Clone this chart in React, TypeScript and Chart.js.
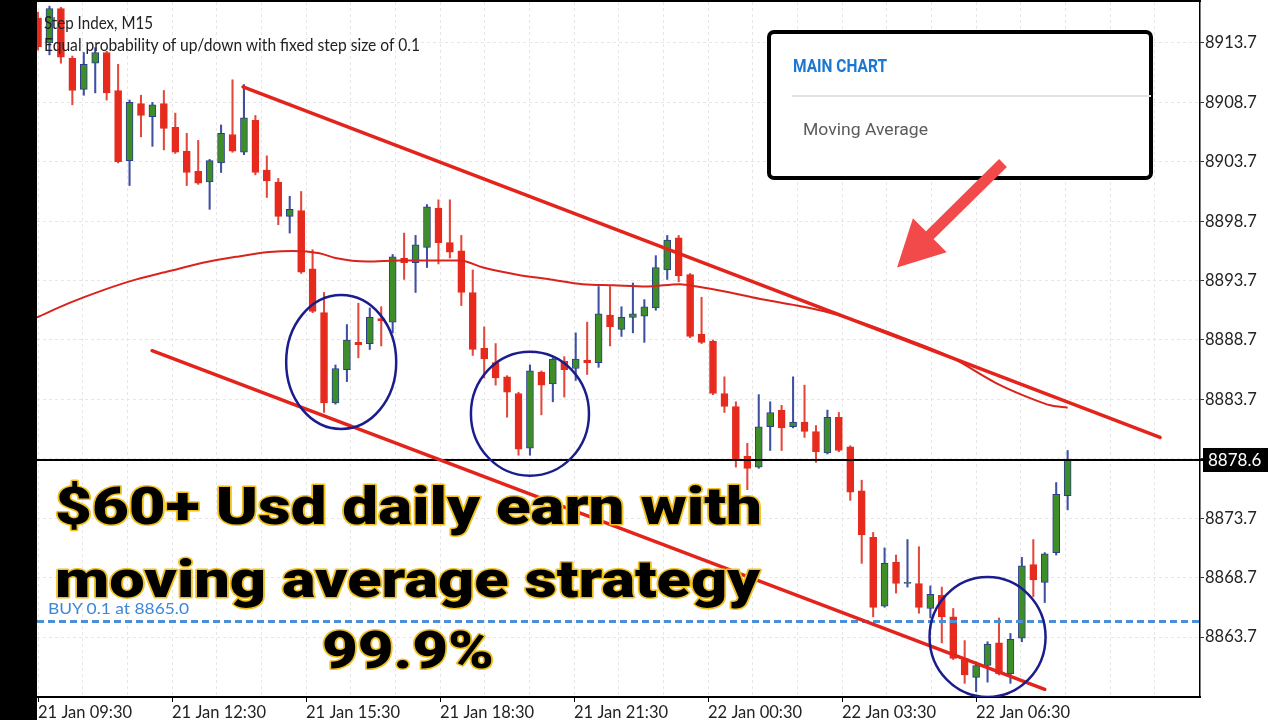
import React, { useEffect, useRef } from 'react';
import { Chart, registerables } from 'chart.js';

Chart.register(...registerables);

// Step Index, M15 candles (open / high / low / close)
const OPEN = [
  8915.8, 8913.7, 8916.6, 8912.4, 8909.8, 8912.0, 8912.9, 8909.7, 8903.8, 8908.6,
  8907.5, 8908.6, 8906.6, 8904.6, 8902.9, 8902.0, 8903.6, 8906.0, 8904.5, 8907.2,
  8903.0, 8902.0, 8899.1, 8899.6, 8894.7, 8891.0, 8883.4, 8886.2, 8888.5, 8888.4,
  8890.5, 8890.2, 8895.6, 8895.2, 8896.5, 8899.8, 8896.9, 8896.2, 8892.7, 8888.0,
  8886.8, 8885.6, 8884.2, 8879.6, 8886.0, 8885.0, 8886.9, 8886.3, 8887.0, 8886.8,
  8890.8, 8889.6, 8890.6, 8890.7, 8891.4, 8894.6, 8897.3, 8894.2, 8889.2, 8888.6,
  8884.2, 8883.1, 8878.9, 8878.0, 8881.4, 8882.8, 8881.4, 8881.8, 8881.0, 8879.2,
  8882.2, 8879.7, 8876.0, 8872.1, 8866.3, 8870.0, 8868.2, 8868.2, 8866.1, 8867.2,
  8865.4, 8861.9, 8860.3, 8861.3, 8863.2, 8860.6, 8863.6, 8869.8, 8868.3, 8870.8,
  8875.6,
];
const HIGH = [
  8916.3, 8916.8, 8916.7, 8912.6, 8912.9, 8913.3, 8913.0, 8911.9, 8908.9, 8909.3,
  8908.7, 8909.7, 8907.8, 8906.1, 8905.5, 8903.9, 8906.8, 8910.6, 8910.2, 8907.6,
  8904.2, 8902.3, 8900.8, 8901.2, 8896.3, 8892.7, 8886.6, 8890.0, 8891.8, 8891.4,
  8891.5, 8895.9, 8897.7, 8897.5, 8900.1, 8900.5, 8900.5, 8897.5, 8894.6, 8889.8,
  8888.4, 8885.7, 8884.3, 8886.6, 8886.1, 8887.2, 8887.3, 8889.3, 8890.2, 8893.2,
  8893.2, 8891.5, 8893.5, 8892.1, 8895.8, 8897.5, 8897.5, 8894.3, 8892.3, 8888.7,
  8885.6, 8883.5, 8880.0, 8884.1, 8883.5, 8883.2, 8885.6, 8884.9, 8881.5, 8882.8,
  8882.6, 8879.8, 8876.9, 8872.5, 8871.2, 8870.6, 8871.9, 8871.3, 8868.0, 8867.9,
  8866.1, 8863.4, 8861.6, 8863.3, 8865.3, 8864.0, 8870.4, 8871.9, 8870.8, 8876.7,
  8879.4,
];
const LOW = [
  8913.1, 8912.7, 8912.0, 8908.5, 8909.3, 8909.5, 8908.9, 8903.6, 8901.7, 8905.8,
  8905.0, 8904.7, 8904.4, 8901.7, 8901.8, 8899.7, 8902.8, 8904.5, 8904.3, 8902.6,
  8900.7, 8898.4, 8897.7, 8894.3, 8891.0, 8882.6, 8883.3, 8885.2, 8887.2, 8887.9,
  8888.2, 8889.3, 8893.8, 8892.7, 8894.8, 8895.1, 8895.6, 8891.6, 8887.4, 8885.5,
  8884.9, 8882.2, 8879.0, 8879.0, 8882.4, 8883.5, 8883.9, 8885.3, 8885.8, 8886.4,
  8888.2, 8889.0, 8889.3, 8888.5, 8891.2, 8893.8, 8893.6, 8888.9, 8888.4, 8884.1,
  8882.6, 8878.0, 8876.1, 8877.9, 8879.4, 8879.4, 8881.3, 8880.5, 8878.4, 8879.1,
  8879.3, 8875.2, 8869.9, 8865.4, 8866.2, 8867.4, 8867.9, 8865.7, 8865.3, 8863.2,
  8861.8, 8859.8, 8859.1, 8859.9, 8860.5, 8859.8, 8863.3, 8867.1, 8866.6, 8870.6,
  8874.4,
];
const CLOSE = [
  8913.4, 8916.6, 8912.5, 8909.7, 8911.9, 8912.9, 8909.5, 8903.7, 8908.7, 8907.6,
  8908.5, 8906.5, 8904.5, 8902.8, 8901.9, 8903.8, 8906.1, 8904.6, 8907.4, 8902.8,
  8902.1, 8899.1, 8899.7, 8894.4, 8891.1, 8883.4, 8886.3, 8888.7, 8888.3, 8890.6,
  8890.3, 8895.7, 8895.2, 8896.7, 8899.9, 8896.9, 8896.1, 8892.7, 8887.9, 8887.1,
  8885.5, 8884.3, 8879.5, 8886.1, 8884.9, 8887.1, 8886.2, 8887.1, 8886.8, 8890.9,
  8889.8, 8890.6, 8890.9, 8891.5, 8894.8, 8897.1, 8894.1, 8889.0, 8888.5, 8884.2,
  8883.1, 8878.7, 8877.9, 8881.4, 8882.6, 8881.3, 8881.8, 8881.0, 8879.3, 8882.2,
  8879.4, 8875.9, 8872.3, 8866.2, 8869.9, 8868.2, 8868.3, 8866.2, 8867.3, 8865.4,
  8861.9, 8860.5, 8861.3, 8863.1, 8860.6, 8863.5, 8869.7, 8868.5, 8870.7, 8875.7,
  8878.6,
];

// Moving Average readings (candle index, value)
const MA_INDEX = [
  -0.1, 2.7, 5.7, 8.6, 11.5, 14.4, 17.3, 20.2, 22.3, 24.6, 26.0, 28.8, 31.6, 34.5,
  36.9, 38.9, 41.9, 44.8, 47.6, 50.3, 53.2, 56.1, 57.6, 60.5, 63.4, 66.3, 69.2,
  71.9, 75.3, 79.7, 84.1, 87.0, 88.5, 90.0,
];
const MA_VALUE = [
  8890.6, 8891.8, 8892.9, 8893.8, 8894.5, 8895.2, 8895.7, 8896.1, 8896.2, 8896.0,
  8895.6, 8895.3, 8895.4, 8895.4, 8895.4, 8894.8, 8894.2, 8893.8, 8893.4, 8893.3,
  8893.2, 8893.4, 8893.2, 8892.7, 8892.1, 8891.6, 8891.0, 8890.2, 8889.0, 8887.3,
  8884.9, 8883.7, 8883.2, 8883.0,
];

// axis labels
const TIME_LABELS = [
  '21 Jan 09:30', '21 Jan 12:30', '21 Jan 15:30', '21 Jan 18:30',
  '21 Jan 21:30', '22 Jan 00:30', '22 Jan 03:30', '22 Jan 06:30',
];
const CANDLES_PER_TIME_LABEL = 11.713;
const PRICE_TICKS = [
  8863.7, 8868.7, 8873.7, 8878.7, 8883.7, 8888.7, 8893.7, 8898.7, 8903.7, 8908.7, 8913.7,
];

// price levels
const LAST_PRICE = 8878.6;
const BUY_PRICE = 8865.0;
const BUY_LABEL = 'BUY 0.1 at 8865.0';

// hand-drawn channel (candle index, price)
const CHANNEL_UPPER = [[17.92, 8910.0], [98.08, 8880.5]];
const CHANNEL_LOWER = [[9.97, 8887.8], [88.0, 8859.3]];

// circled zones: centre (candle index, price) and half extents
const ZONE_X = [26.5, 43.0, 83.0];
const ZONE_Y = [8886.85, 8882.5, 8863.7];
const ZONE_DX = [4.81, 5.16, 5.07];
const ZONE_DY = [5.64, 5.22, 5.05];

// arrow pointing at the moving average
const ARROW_FROM = [84.35, 8903.6];
const ARROW_TO = [75.09, 8894.8];

const X_MIN = -0.09;
const X_MAX = 101.57;
const Y_MIN = 8858.65;
const Y_MAX = 8917.15;

const GREEN = '#3e8e28';
const RED = '#e62a1e';
const NAVY = '#2c3d8f';
const WICK_RED = '#e2483c';
const WICK_BLUE = '#3f4fa3';

function fitText(ctx: CanvasRenderingContext2D, text: string, x: number, y: number, width: number) {
  const w = ctx.measureText(text).width;
  ctx.save();
  ctx.translate(x, y);
  ctx.scale(width / w, 1);
  ctx.fillText(text, 0, 0);
  ctx.restore();
}

const marksPlugin = {
  id: 'marks',
  afterDatasetsDraw(chart: any) {
    const { ctx, chartArea: a, scales } = chart;
    const xs = scales.x;
    const ys = scales.y;
    ctx.save();
    ctx.beginPath();
    ctx.rect(a.left, a.top, a.right - a.left, a.bottom - a.top);
    ctx.clip();

    // current price line
    const py = ys.getPixelForValue(LAST_PRICE);
    ctx.strokeStyle = '#000';
    ctx.lineWidth = 2;
    ctx.beginPath();
    ctx.moveTo(a.left, py);
    ctx.lineTo(a.right, py);
    ctx.stroke();

    // open buy position
    const by = ys.getPixelForValue(BUY_PRICE);
    ctx.setLineDash([7, 4]);
    ctx.strokeStyle = '#4a8fd8';
    ctx.lineWidth = 3;
    ctx.beginPath();
    ctx.moveTo(a.left, by);
    ctx.lineTo(a.right, by);
    ctx.stroke();
    ctx.setLineDash([]);

    // channel lines
    ctx.strokeStyle = '#e3241c';
    ctx.lineWidth = 3.5;
    ctx.lineCap = 'round';
    for (const seg of [CHANNEL_UPPER, CHANNEL_LOWER]) {
      ctx.beginPath();
      ctx.moveTo(xs.getPixelForValue(seg[0][0]), ys.getPixelForValue(seg[0][1]));
      ctx.lineTo(xs.getPixelForValue(seg[1][0]), ys.getPixelForValue(seg[1][1]));
      ctx.stroke();
    }

    // circled zones
    ctx.strokeStyle = '#1c1d8c';
    ctx.lineWidth = 2.5;
    ZONE_X.forEach((zx, k) => {
      const cx = xs.getPixelForValue(zx);
      const cy = ys.getPixelForValue(ZONE_Y[k]);
      const rx = Math.abs(xs.getPixelForValue(zx + ZONE_DX[k]) - cx);
      const ry = Math.abs(ys.getPixelForValue(ZONE_Y[k] + ZONE_DY[k]) - cy);
      ctx.beginPath();
      ctx.ellipse(cx, cy, rx, ry, 0, 0, Math.PI * 2);
      ctx.stroke();
    });
    ctx.restore();
  },
  afterDraw(chart: any) {
    const { ctx, chartArea: a, scales } = chart;
    const xs = scales.x;
    const ys = scales.y;
    ctx.save();

    // frame top edge
    ctx.fillStyle = '#000';
    ctx.fillRect(a.left, 0, a.right - a.left + 1, 2);

    // indicator panel
    ctx.fillStyle = '#fff';
    ctx.strokeStyle = '#000';
    ctx.lineWidth = 4;
    ctx.beginPath();
    ctx.roundRect(769, 32, 382, 146, 5);
    ctx.fill();
    ctx.stroke();
    ctx.fillStyle = '#1a78d2';
    ctx.font = 'bold 19px Roboto';
    ctx.textBaseline = 'alphabetic';
    fitText(ctx, 'MAIN CHART', 793, 72, 94);
    ctx.strokeStyle = '#e2e2e2';
    ctx.lineWidth = 2;
    ctx.beginPath();
    ctx.moveTo(792, 96);
    ctx.lineTo(1151, 96);
    ctx.stroke();
    ctx.fillStyle = '#5b5b5b';
    ctx.font = '17px Roboto';
    fitText(ctx, 'Moving Average', 803, 135, 125);

    // arrow
    const tx = xs.getPixelForValue(ARROW_FROM[0]);
    const ty = ys.getPixelForValue(ARROW_FROM[1]);
    const hx = xs.getPixelForValue(ARROW_TO[0]);
    const hy = ys.getPixelForValue(ARROW_TO[1]);
    const ang = Math.atan2(hy - ty, hx - tx);
    const cos = Math.cos(ang);
    const sin = Math.sin(ang);
    const headLen = 46;
    const headHalf = 24;
    const bx = hx - headLen * cos;
    const bY = hy - headLen * sin;
    ctx.strokeStyle = '#f24a4a';
    ctx.fillStyle = '#f24a4a';
    ctx.lineWidth = 11;
    ctx.lineCap = 'butt';
    ctx.beginPath();
    ctx.moveTo(tx, ty);
    ctx.lineTo(bx + 2 * cos, bY + 2 * sin);
    ctx.stroke();
    ctx.beginPath();
    ctx.moveTo(hx, hy);
    ctx.lineTo(bx - headHalf * sin, bY + headHalf * cos);
    ctx.lineTo(bx + headHalf * sin, bY - headHalf * cos);
    ctx.closePath();
    ctx.fill();

    // last price tag on the axis
    const py = ys.getPixelForValue(LAST_PRICE);
    ctx.fillStyle = '#000';
    ctx.fillRect(a.right, py - 1, 4, 2);
    ctx.fillRect(a.right + 3, py - 12, 65, 24);
    ctx.fillStyle = '#fff';
    ctx.font = '17px Lato';
    ctx.textBaseline = 'middle';
    ctx.textAlign = 'left';
    ctx.fillText(LAST_PRICE.toFixed(1), a.right + 8, py + 1);
    ctx.restore();
  },
};

export default function App() {
  const canvasRef = useRef<HTMLCanvasElement>(null);

  useEffect(() => {
    const idx = OPEN.map((_, i) => i);
    const bull = (i: number) => CLOSE[i] >= OPEN[i];
    const gridTicks = Array.from({ length: 27 }, (_, k) => (k * CANDLES_PER_TIME_LABEL) / 3);

    const chart = new Chart(canvasRef.current as HTMLCanvasElement, {
      type: 'bar',
      data: {
        datasets: [
          {
            type: 'line',
            label: 'Moving Average',
            data: MA_INDEX.map((x, k) => ({ x, y: MA_VALUE[k] })),
            borderColor: '#d9231c',
            borderWidth: 2,
            pointRadius: 0,
            cubicInterpolationMode: 'monotone',
            order: 0,
          } as any,
          {
            type: 'bar',
            label: 'body',
            data: idx.map((i) => ({ x: i, y: [OPEN[i], CLOSE[i]] })),
            backgroundColor: idx.map((i) => (bull(i) ? GREEN : RED)),
            borderColor: idx.map((i) => (bull(i) ? NAVY : RED)),
            borderWidth: 1,
            borderSkipped: false,
            barThickness: 7,
            minBarLength: 1,
            grouped: false,
            order: 1,
          } as any,
          {
            type: 'bar',
            label: 'wick',
            data: idx.map((i) => ({ x: i, y: [LOW[i], HIGH[i]] })),
            backgroundColor: idx.map((i) => (bull(i) ? WICK_BLUE : WICK_RED)),
            borderWidth: 0,
            barThickness: 1.4,
            grouped: false,
            order: 2,
          } as any,
        ],
      },
      options: {
        responsive: false,
        animation: false,
        devicePixelRatio: 1,
        events: [],
        layout: { padding: { left: 37, top: 2, right: 0, bottom: 0 } },
        plugins: { legend: { display: false }, tooltip: { enabled: false } },
        scales: {
          x: {
            type: 'linear',
            min: X_MIN,
            max: X_MAX,
            offset: false,
            grid: {
              offset: false,
              color: '#e6e6e6',
              lineWidth: 1,
              tickLength: 5,
              tickColor: (c: any) =>
                c.index % 3 === 0 && c.index / 3 < TIME_LABELS.length ? '#000' : 'rgba(0,0,0,0)',
            },
            border: { color: '#000', width: 2, dash: [3, 3] },
            ticks: {
              autoSkip: false,
              maxRotation: 0,
              minRotation: 0,
              align: 'start',
              padding: 1,
              color: '#222',
              font: { family: 'Lato', size: 16.5 },
              callback: (_v: any, i: number) => (i % 3 === 0 ? TIME_LABELS[i / 3] ?? '' : ''),
            },
            afterBuildTicks: (s: any) => {
              s.ticks = gridTicks.map((value) => ({ value }));
            },
            afterFit: (s: any) => {
              s.height = 23;
              s.paddingLeft = 0;
              s.paddingRight = 0;
            },
          } as any,
          y: {
            type: 'linear',
            position: 'right',
            min: Y_MIN,
            max: Y_MAX,
            grid: { color: '#e6e6e6', tickLength: 4, tickColor: '#333' },
            border: { color: '#000', width: 1.5, dash: [3, 3] },
            ticks: {
              padding: 1,
              color: '#222',
              font: { family: 'Lato', size: 16.5 },
              callback: (v: any) => Number(v).toFixed(1),
            },
            afterBuildTicks: (s: any) => {
              s.ticks = PRICE_TICKS.map((value) => ({ value }));
            },
            afterFit: (s: any) => {
              s.width = 80;
              s.paddingTop = 0;
              s.paddingBottom = 0;
            },
          } as any,
        },
      },
      plugins: [marksPlugin],
    } as any);

    return () => chart.destroy();
  }, []);

  const heavy = {
    fontFamily: 'Roboto, "DejaVu Sans", sans-serif',
    fontWeight: 900,
    fontSize: 52,
    fill: '#000',
    stroke: '#f0c020',
    strokeWidth: 3,
    strokeLinejoin: 'round' as const,
    paintOrder: 'stroke',
  };

  return (
    <div style={{ position: 'fixed', left: 0, top: 0, width: 1280, height: 720, background: '#fff', overflow: 'hidden' }}>
      <canvas ref={canvasRef} width={1280} height={720} style={{ position: 'absolute', left: 0, top: 0, width: 1280, height: 720 }} />
      <div style={{ position: 'absolute', left: 0, top: 0, width: 37, height: 720, background: '#000' }} />
      <svg width={1280} height={720} style={{ position: 'absolute', left: 0, top: 0, pointerEvents: 'none' }}>
        <g fontFamily="Lato, sans-serif" fontSize={18} fill="#222">
          <text x={44} y={29} textLength={109} lengthAdjust="spacingAndGlyphs">Step Index, M15</text>
          <text x={44} y={51} textLength={376} lengthAdjust="spacingAndGlyphs">
            Equal probability of up/down with fixed step size of 0.1
          </text>
        </g>
        <text x={48} y={614} fontFamily="Lato, sans-serif" fontSize={16} fill="#3d87d6" textLength={141} lengthAdjust="spacingAndGlyphs">
          {BUY_LABEL}
        </text>
        <g style={heavy as any}>
          <text x={55} y={524} textLength={707} lengthAdjust="spacingAndGlyphs">$60+ Usd daily earn with</text>
          <text x={55} y={597} textLength={705} lengthAdjust="spacingAndGlyphs">moving average strategy</text>
          <text x={322} y={668} textLength={172} lengthAdjust="spacingAndGlyphs">99.9%</text>
        </g>
      </svg>
    </div>
  );
}
